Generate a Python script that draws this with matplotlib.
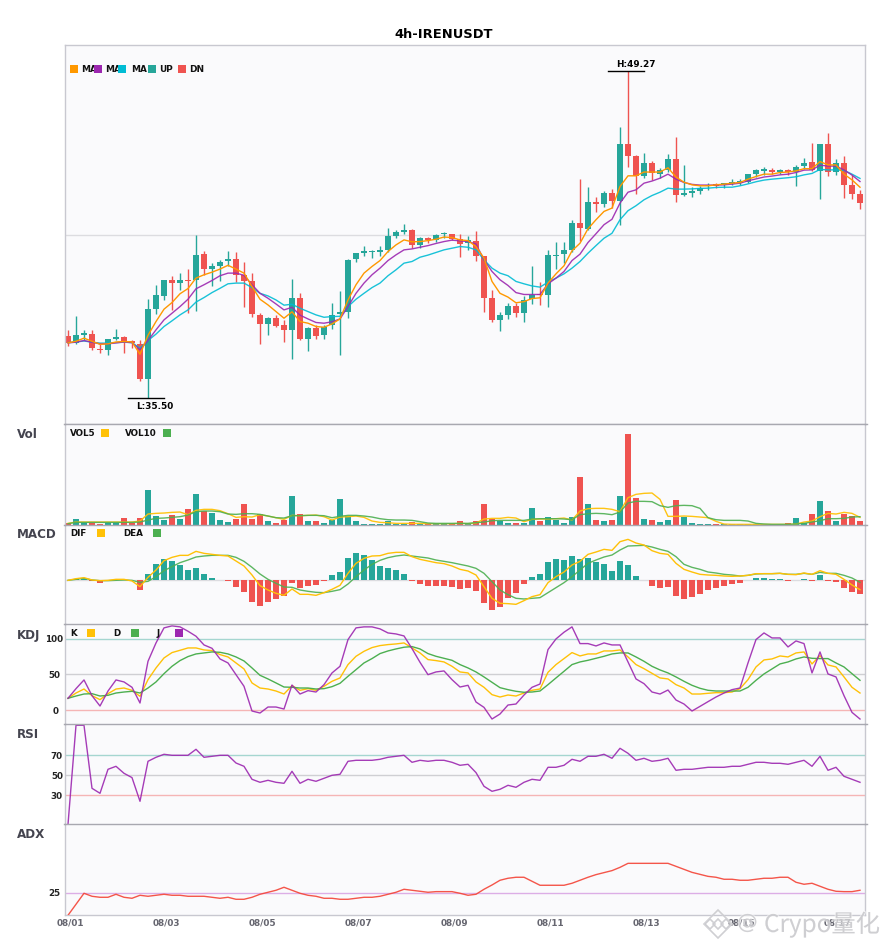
import matplotlib
matplotlib.use('Agg')
import numpy as np
import matplotlib.pyplot as plt
import matplotlib.patheffects as pe
from matplotlib.lines import Line2D
from matplotlib.patches import Rectangle, Polygon

# 4h candles, 100 bars
opens = [38.13,37.84,38.17,38.21,37.58,37.51,38.00,38.08,37.89,37.79,
         36.31,39.26,39.81,40.49,40.36,40.49,40.49,41.58,40.95,41.08,
         41.29,41.37,40.70,40.44,39.01,38.63,38.88,38.59,38.38,39.73,
         38.00,38.46,38.17,38.59,39.05,39.14,41.37,41.62,41.68,41.67,
         41.75,42.34,42.51,42.59,41.96,42.26,42.17,42.40,42.43,42.22,
         42.06,42.13,41.50,39.73,38.80,39.01,39.39,39.10,39.69,39.90,
         39.84,41.51,41.58,41.75,42.89,42.64,43.77,43.69,44.15,43.82,
         46.22,45.71,44.87,45.42,44.94,45.12,45.59,44.07,44.15,44.24,
         44.45,44.53,44.49,44.53,44.58,44.62,44.94,45.08,45.12,45.04,
         45.12,45.04,45.29,45.46,45.08,46.22,45.04,45.42,44.49,44.11]
highs = [38.38,38.97,38.38,38.38,37.79,38.00,38.42,38.13,37.96,37.96,
         39.69,40.28,40.49,40.66,40.78,40.95,42.38,41.71,41.20,41.33,
         41.71,41.67,41.25,40.78,39.10,38.93,39.01,38.80,40.53,39.94,
         38.50,38.59,38.59,39.52,40.02,41.37,41.62,41.92,41.75,41.92,
         42.68,42.59,42.85,42.64,42.30,42.30,42.43,42.51,42.43,42.43,
         42.34,42.55,41.50,40.07,39.14,39.52,39.52,39.81,41.08,40.40,
         41.75,42.09,42.09,43.02,44.74,44.41,43.99,44.24,44.32,46.94,
         49.27,45.76,45.84,45.50,45.21,45.80,46.52,45.32,44.41,44.45,
         44.58,44.58,44.58,44.74,44.74,44.94,45.17,45.25,45.21,45.17,
         45.17,45.33,45.63,46.26,46.22,46.68,45.59,45.71,44.91,44.28]
lows = [37.68,37.79,37.96,37.51,37.42,37.34,37.96,37.42,37.62,36.23,
        35.50,39.05,39.64,39.22,40.07,39.10,39.18,40.70,40.24,40.44,
        41.08,40.40,39.35,38.93,37.79,38.17,38.49,37.87,37.16,37.96,
        37.49,38.00,38.00,38.42,37.33,38.88,41.25,41.50,41.41,41.50,
        41.67,42.26,42.43,41.84,41.84,42.05,42.09,42.26,42.17,41.46,
        41.75,41.29,39.14,38.72,38.34,38.84,38.93,38.72,39.47,39.43,
        39.35,40.95,41.20,41.67,42.13,42.59,43.35,43.56,43.52,42.81,
        45.25,44.11,44.79,44.70,44.79,45.04,43.77,44.03,43.99,44.11,
        44.28,44.37,44.37,44.49,44.49,44.58,44.83,44.91,44.94,44.94,
        44.91,44.45,45.17,45.08,43.90,44.87,44.91,43.94,43.90,43.47]
closes = [37.84,38.17,38.23,37.62,37.51,38.00,38.08,37.89,37.84,36.31,
          39.26,39.84,40.49,40.36,40.49,40.44,41.54,40.95,41.08,41.25,
          41.37,40.70,40.44,39.05,38.63,38.88,38.55,38.38,39.73,38.00,
          38.46,38.13,38.50,39.01,39.14,41.33,41.62,41.71,41.72,41.75,
          42.34,42.51,42.59,41.96,42.26,42.17,42.38,42.45,42.22,42.00,
          42.17,41.50,39.73,38.80,39.01,39.39,39.10,39.64,39.84,39.84,
          41.54,41.54,41.75,42.89,42.68,43.77,43.69,44.15,43.82,46.22,
          45.71,44.87,45.42,45.00,45.12,45.59,44.07,44.15,44.24,44.37,
          44.49,44.46,44.58,44.62,44.66,44.94,45.12,45.14,45.04,45.12,
          45.04,45.25,45.42,45.12,46.22,45.04,45.42,44.49,44.11,43.73]

ma_fast = [37.83,37.90,38.03,37.90,37.77,37.79,37.87,37.89,37.87,37.35,
           38.15,38.73,39.25,39.53,39.90,40.12,40.56,40.70,40.81,40.94,
           41.10,40.94,40.77,40.21,39.67,39.43,39.15,38.87,39.14,38.73,
           38.66,38.52,38.49,38.63,38.84,39.64,40.28,40.77,41.05,41.30,
           41.68,41.96,42.17,42.09,42.10,42.14,42.20,42.29,42.27,42.17,
           42.14,41.89,41.40,40.42,39.92,39.76,39.52,39.57,39.70,39.73,
           40.35,40.74,41.08,41.71,42.03,42.64,43.02,43.37,43.51,44.42,
           44.87,44.87,45.03,45.03,45.03,45.21,44.82,44.60,44.49,44.45,
           44.45,44.49,44.52,44.56,44.59,44.73,44.84,44.94,44.94,45.01,
           45.03,45.08,45.17,45.17,45.47,45.33,45.33,44.94,44.70,44.39]
ma_mid = [37.83,37.86,37.93,37.86,37.79,37.79,37.83,37.87,37.84,37.54,
          37.93,38.38,38.80,39.08,39.36,39.67,40.11,40.28,40.46,40.66,
          40.77,40.77,40.68,40.28,39.92,39.71,39.47,39.22,39.33,39.00,
          38.84,38.69,38.66,38.72,38.84,39.36,39.92,40.35,40.70,40.98,
          41.30,41.54,41.75,41.79,41.86,41.93,42.02,42.10,42.16,42.13,
          42.10,42.00,41.33,40.84,40.49,40.25,39.95,39.87,39.87,39.87,
          40.32,40.56,40.84,41.30,41.57,42.06,42.43,42.81,43.04,43.72,
          44.18,44.28,44.56,44.65,44.77,44.94,44.73,44.59,44.51,44.48,
          44.48,44.48,44.49,44.52,44.56,44.66,44.74,44.82,44.86,44.91,
          44.94,45.01,45.11,45.12,45.32,45.28,45.28,45.12,44.90,44.63]
ma_slow = [37.84,37.87,37.91,37.86,37.82,37.82,37.84,37.86,37.84,37.61,
           37.93,38.20,38.52,38.76,39.01,39.22,39.55,39.74,39.95,40.13,
           40.32,40.35,40.35,40.16,39.92,39.81,39.64,39.42,39.46,39.29,
           39.15,39.01,38.91,38.94,38.95,39.36,39.67,39.92,40.16,40.35,
           40.66,40.91,41.19,41.26,41.44,41.53,41.64,41.75,41.82,41.89,
           41.86,41.75,41.33,40.98,40.77,40.66,40.42,40.32,40.23,40.18,
           40.39,40.56,40.74,40.98,41.26,41.61,41.93,42.24,42.45,43.02,
           43.40,43.61,43.86,44.04,44.18,44.35,44.31,44.31,44.32,44.34,
           44.35,44.38,44.39,44.39,44.45,44.53,44.62,44.69,44.73,44.76,
           44.79,44.83,44.91,44.97,45.14,45.12,45.12,45.10,44.94,44.76]

# volume, arbitrary units (no axis in the chart)
volume = [6,17,6,6,3,6,6,20,6,20,
          104,26,14,29,17,47,92,41,35,14,
          8,17,62,17,32,11,5,14,86,32,
          11,11,5,14,77,26,11,2,2,2,
          11,2,2,8,2,3,2,2,2,11,
          3,11,62,17,11,5,5,5,50,11,
          23,14,5,23,143,62,14,11,14,86,
          272,80,17,14,8,14,74,23,5,2,
          2,2,1,1,1,1,1,1,1,1,
          4,20,5,32,71,41,11,32,26,11]
vol5 = [4,8,8,8,8,8,8,8,8,11,
        32,34,35,37,38,30,43,46,46,42,
        33,22,24,23,30,26,21,16,28,27,
        28,29,24,14,23,24,26,22,11,7,
        6,4,4,4,4,3,3,3,3,4,
        3,5,17,19,19,22,20,9,16,17,
        17,18,20,14,41,48,49,49,46,39,
        81,91,94,95,76,25,25,26,25,23,
        21,10,2,1,1,1,1,1,1,1,
        1,2,8,11,24,34,32,37,34,22]
vol10 = [3,7,7,7,7,7,7,7,7,8,
         14,19,20,22,24,29,39,41,41,39,
         32,31,33,33,31,26,21,20,27,27,
         28,28,27,21,25,28,28,26,23,18,
         15,14,14,13,9,5,4,4,4,4,
         4,6,8,12,13,13,13,13,17,18,
         18,18,17,15,30,33,34,33,30,38,
         65,70,70,69,57,52,57,58,57,49,
         21,15,13,13,13,11,4,2,1,1,
         1,2,4,8,12,18,18,19,23,24]

# macd, arbitrary units
macd_hist = [0,3,4,-3,-8,-1,1,1,2,-29,
             19,49,64,58,46,31,37,19,7,1,
             -2,-20,-35,-65,-77,-65,-56,-46,-8,-23,
             -17,-14,-3,16,25,67,82,76,61,43,
             37,31,19,-2,-11,-17,-17,-17,-20,-26,
             -23,-32,-68,-89,-80,-53,-38,-11,10,19,
             55,64,61,73,64,67,55,49,28,58,
             46,13,0,-16,-23,-19,-47,-56,-50,-41,
             -29,-23,-16,-11,-8,0,7,7,4,4,
             -2,0,4,-2,16,-2,-5,-23,-35,-41]
dif = [0,5,8,1,-1,0,3,3,-2,-19,
       9,31,59,69,75,75,87,81,78,75,
       73,58,43,16,-16,-29,-39,-45,-26,-42,
       -42,-45,-37,-27,-15,21,51,66,73,74,
       81,84,84,71,63,58,53,50,43,33,
       28,16,-19,-54,-69,-70,-72,-61,-49,-43,
       -7,11,25,46,57,78,85,93,90,116,
       123,112,106,89,81,78,51,33,25,18,
       16,15,13,12,13,15,20,20,20,21,
       18,17,22,18,29,21,18,3,-14,-28]
dea = [0,3,6,1,-1,-1,0,1,0,-6,
       -3,11,29,41,53,61,70,73,75,75,
       75,69,57,39,19,3,-9,-20,-21,-29,
       -33,-36,-37,-33,-28,-11,11,31,48,60,
       68,73,76,73,70,67,61,57,53,48,
       43,36,21,-4,-29,-43,-54,-56,-54,-52,
       -37,-22,-7,11,31,51,61,70,76,91,
       103,104,105,100,93,87,71,48,39,33,
       25,22,18,16,13,15,19,20,20,21,
       18,18,21,18,24,21,21,15,7,-6]

kdj_k = [16.4,23.8,29.4,20.1,14.5,22.9,29.4,30.8,27.6,19.2,
         42.5,58.9,72.9,80.4,83.6,86.9,86.9,84.1,83.2,77.6,
         74.3,65.9,57.5,37.9,30.8,29.4,26.6,22.4,34.1,27.6,
         29.9,27.6,33.2,40.2,44.9,63.6,75.2,82.2,87.4,90.2,
         91.6,92.5,93.9,86.9,79.9,70.6,69.2,67.3,61.2,53.3,
         51.9,39.3,31.8,21.5,18.2,21.0,19.6,23.8,27.6,29.4,
         52.8,63.6,72.0,80.4,75.7,78.5,78.5,82.7,82.7,84.1,
         74.3,63.6,57.9,51.4,44.9,43.5,35.5,30.8,22.4,22.4,
         23.4,24.3,24.3,25.2,29.9,42.5,60.3,70.1,71.5,75.7,
         74.3,79.9,81.3,64.5,76.2,63.1,60.3,46.3,31.8,23.8]
kdj_d = [16.4,19.6,22.4,22.9,19.6,20.6,23.8,25.2,26.2,23.8,
         30.8,39.3,50.9,61.2,69.2,74.8,78.5,79.9,81.3,80.8,
         78.5,74.3,68.7,58.9,48.6,43.5,37.9,32.2,31.8,30.8,
         30.8,29.4,29.9,32.7,37.4,47.2,56.5,65.9,72.0,79.0,
         82.7,85.5,87.9,88.8,85.5,79.0,75.2,72.4,69.6,63.6,
         58.9,53.3,46.3,38.8,31.3,28.5,26.2,24.8,25.2,26.6,
         35.5,44.9,54.2,63.6,67.3,69.6,72.4,75.2,78.5,79.9,
         79.9,74.3,68.2,61.2,56.1,51.9,46.3,40.2,34.6,30.4,
         27.6,26.6,26.6,26.6,26.6,31.8,41.6,50.5,57.5,64.5,
         67.3,71.5,74.3,72.4,72.0,72.0,65.9,60.3,50.9,41.6]
kdj_j = [16.4,29.9,42.1,20.1,5.6,26.6,42.1,39.3,31.8,9.8,
         68.2,93.9,115.0,117.8,116.4,110.3,103.3,91.1,86.4,71.5,
         65.9,49.5,33.2,-1.4,-4.2,4.2,4.2,1.4,35.0,22.4,
         27.1,25.2,35.5,51.9,61.2,98.6,115.0,116.4,116.4,113.6,
         107.9,106.5,103.7,86.0,66.8,49.5,53.3,54.7,42.5,32.2,
         34.6,11.2,3.7,-12.6,-5.6,7.0,8.4,21.0,31.8,36.4,
         84.6,99.5,108.9,116.4,93.0,93.0,89.7,93.9,91.1,91.1,
         67.3,43.5,36.9,25.2,22.4,28.0,14.0,8.4,-1.4,5.1,
         11.7,18.2,23.8,28.5,30.8,65.9,98.6,107.9,100.9,100.9,
         88.3,96.7,93.0,51.9,81.3,50.5,46.3,20.1,-3.3,-12.6]

rsi = [1,100,100,37,32,56,59,52,47.7,24,
       64,68,71,70,70,70,76,68,69,70,
       70,62.3,59,46,43,45,43,42,54,42,
       46,44,47,50,51,64,65,65,65,66,
       68,69,70,63,65,64,65,65,63,60,
       61,52.7,39,34,36,40,38,43,46,45,
       58,58,60,66,64,69,69,71,67,77,
       72,65,67,64,65,67,55,56,56,57,
       58,58,58,59,59,61,63,63,62,62,
       61,63,65,59,69,55,58,49,46,43]
adx = [0,12.1,24.2,20.9,19.8,19.8,23.1,19.8,18.7,22.0,
       20.9,22.0,23.1,22.0,22.0,20.9,20.9,20.9,19.8,18.7,
       19.8,17.6,17.6,19.8,23.1,25.3,27.5,30.8,27.5,24.2,
       22.0,20.9,18.7,18.7,17.6,17.6,18.7,19.8,19.8,20.9,
       23.1,25.3,28.6,27.5,26.4,25.3,26.0,26.0,26.0,24.2,
       22.0,23.1,28.6,33.3,38.5,40.7,41.8,41.8,37.4,33.0,
       33.0,33.0,33.0,35.2,38.5,41.8,44.7,46.9,49.1,52.7,
       57.1,57.1,57.1,57.1,57.1,57.1,53.8,50.5,47.2,45.0,
       42.8,41.8,39.6,39.6,38.5,38.5,39.6,40.7,40.7,41.8,
       41.8,36.3,34.1,35.2,31.9,28.6,26.4,26.0,26.0,27.5]

date_labels = ['08/01','08/03','08/05','08/07','08/09','08/11','08/13','08/15','08/17']

W, H = 885, 950
UP = '#26a69a'
DN = '#ef5350'
BG = '#fafafc'
EDGE = '#c8c8d0'
TOP_EDGE = '#a8a8b0'
YELLOW = '#ffc107'
GREEN = '#4caf50'
PURPLE = '#9c27b0'

plt.rcParams['font.family'] = ['DejaVu Sans']

fig = plt.figure(figsize=(W / 100, H / 100), dpi=100)


def px_axes(top, bottom):
    return fig.add_axes([65 / W, 1 - bottom / H, 800 / W, (bottom - top) / H])


def fig_xy(x, y):
    return x / W, 1 - y / H


def fig_text(x, y, s, **kw):
    kw.setdefault('va', 'center')
    kw.setdefault('fontweight', 'bold')
    kw.setdefault('zorder', 4)
    fig.text(*fig_xy(x, y), s, **kw)


def fig_square(x, y, color):
    fig.add_artist(Rectangle(fig_xy(x, y + 8), 8 / W, 8 / H, color=color, lw=0,
                             transform=fig.transFigure, zorder=5))


x = np.arange(100)
o = np.array(opens)
c = np.array(closes)
bar_colors = [UP if c[i] >= o[i] else DN for i in x]
xlim = (-0.375, 99.625)

ax_price = px_axes(45.3, 424.3)
ax_vol = px_axes(424.3, 524.7)
ax_macd = px_axes(524.7, 624.3)
ax_kdj = px_axes(624.3, 724.3)
ax_rsi = px_axes(724.3, 824.3)
ax_adx = px_axes(824.3, 915.3)
panels = [ax_price, ax_vol, ax_macd, ax_kdj, ax_rsi, ax_adx]

for i, ax in enumerate(panels):
    ax.set_facecolor(BG)
    ax.set_xlim(xlim)
    ax.set_xticks([])
    ax.set_yticks([])
    for side in ax.spines:
        ax.spines[side].set_color(EDGE)
        ax.spines[side].set_linewidth(1)
    if i > 0:
        ax.spines['top'].set_color(TOP_EDGE)
        ax.spines['top'].set_zorder(6)
        ax.spines['bottom'].set_visible(i == 5)

# candles
ax_price.set_ylim(34.40, 50.37)
ax_price.axhline(42.39, color='#dcdce0', lw=1, zorder=1)
ax_price.vlines(x, lows, highs, colors=bar_colors, lw=1, zorder=2)
ax_price.bar(x, c - o, bottom=o, width=0.75, color=bar_colors, lw=0, zorder=2)
ax_price.plot(x, ma_slow, color='#00bcd4', lw=1.0, alpha=0.9, zorder=3)
ax_price.plot(x, ma_mid, color=PURPLE, lw=1.0, alpha=0.9, zorder=3)
ax_price.plot(x, ma_fast, color='#ff9800', lw=1.0, zorder=3)

# high / low marks
hi = int(np.argmax(highs))
lo = int(np.argmin(lows))
ax_price.plot([hi - 2.5, hi + 2], [highs[hi]] * 2, color='black', lw=1, zorder=4)
ax_price.plot([lo - 2.5, lo + 2], [lows[lo]] * 2, color='black', lw=1, zorder=4)
ax_price.annotate('H:%.2f' % highs[hi], (hi, highs[hi]), xytext=(-8.6, 1.6), textcoords='offset points',
                  fontsize=6.4, fontweight='bold', ha='left', va='bottom', annotation_clip=False)
ax_price.annotate('L:%.2f' % lows[lo], (lo, lows[lo]), xytext=(-8.6, -2.4), textcoords='offset points',
                  fontsize=6.4, fontweight='bold', ha='left', va='top', annotation_clip=False)

# volume
ax_vol.set_ylim(0, 301)
ax_vol.bar(x, volume, width=0.75, color=bar_colors, lw=0, zorder=2)
ax_vol.plot(x, vol5, color=YELLOW, lw=1.0, alpha=0.95, zorder=3)
ax_vol.plot(x, vol10, color=GREEN, lw=1.0, alpha=0.9, zorder=3)

# macd
ax_macd.set_ylim(-132, 167)
ax_macd.axhline(0, color='#dcdce0', lw=1, zorder=1)
hist_colors = [UP if v >= 0 else DN for v in macd_hist]
ax_macd.bar(x, macd_hist, width=0.75, color=hist_colors, lw=0, zorder=2)
ax_macd.plot(x, dea, color=GREEN, lw=1.0, alpha=0.9, zorder=3)
ax_macd.plot(x, dif, color=YELLOW, lw=1.0, zorder=3)

# kdj
ax_kdj.set_ylim(-20, 120)
ax_kdj.axhline(100, color='#a5d6d0', lw=1, zorder=1)
ax_kdj.axhline(50, color='#cfcfd3', lw=1, zorder=1)
ax_kdj.axhline(0, color='#f5b5b5', lw=1, zorder=1)
ax_kdj.plot(x, kdj_k, color=YELLOW, lw=1.0, zorder=3)
ax_kdj.plot(x, kdj_d, color=GREEN, lw=1.0, zorder=3)
ax_kdj.plot(x, kdj_j, color=PURPLE, lw=1.0, alpha=0.9, zorder=4)

# rsi
ax_rsi.set_ylim(1, 101)
ax_rsi.axhline(70, color='#a5d6d0', lw=1, zorder=1)
ax_rsi.axhline(50, color='#cfcfd3', lw=1, zorder=1)
ax_rsi.axhline(30, color='#f5b5b5', lw=1, zorder=1)
ax_rsi.plot(x, rsi, color=PURPLE, lw=1.0, alpha=0.9, zorder=3)

# adx
ax_adx.set_ylim(0, 100)
ax_adx.axhline(25, color='#dcaee6', lw=1, zorder=1)
ax_adx.plot(x, adx, color='#f44336', lw=1.0, alpha=0.9, zorder=3)

# labels in the reference are not quite right aligned, so each gets its own pad
for ax, ticks, pads in [(ax_kdj, [0, 50, 100], [4.5, 3, 1.5]), (ax_rsi, [30, 50, 70], [1.5, 1.5, 1.5]),
                        (ax_adx, [25], [3])]:
    ax.set_yticks(ticks)
    ax.set_yticklabels([str(t) for t in ticks], fontsize=6.3, fontweight='bold', color='#222222')
    ax.tick_params(axis='y', length=0)
    for tick, pad in zip(ax.yaxis.get_major_ticks(), pads):
        tick.set_pad(pad)

ax_adx.set_xticks(x[::12] + 0.25)
ax_adx.set_xticklabels(date_labels, fontsize=6.4, fontweight='bold', color='#666670')
ax_adx.tick_params(axis='x', length=0, pad=2.2)

# small nubs where panels join
for y in [424.3, 524.7, 624.3, 724.3, 824.3]:
    for x0 in [63.5, 865]:
        fig.add_artist(Line2D([x0 / W, (x0 + 1.5) / W], [1 - y / H] * 2, color=TOP_EDGE, lw=1))

fig_text(444, 34.5, '4h-IRENUSDT', fontsize=9.4, ha='center', color='black')

for label, y in [('Vol', 434.7), ('MACD', 535), ('KDJ', 635), ('RSI', 735), ('ADX', 835)]:
    fig_text(17, y, label, fontsize=8.6, color='#44444f')

# legends
for text_x, label, sq_x, color in [(81, 'MA', 70, '#ff9800'), (105, 'MA', 94, PURPLE),
                                   (131, 'MA', 118, '#00bcd4'), (159, 'UP', 148, UP), (189, 'DN', 178, DN)]:
    fig_text(text_x, 69, label, fontsize=6.4, color='#111111')
    fig_square(sq_x, 65, color)

for text_x, label, sq_x, color in [(70, 'VOL5', 101, YELLOW), (125, 'VOL10', 163, GREEN)]:
    fig_text(text_x, 433.5, label, fontsize=6.3, color='#111111')
    fig_square(sq_x, 429, color)

for text_x, label, sq_x, color in [(70, 'DIF', 97, YELLOW), (123, 'DEA', 153, GREEN)]:
    fig_text(text_x, 533.5, label, fontsize=6.3, color='#111111')
    fig_square(sq_x, 529, color)

for text_x, label, sq_x, color in [(70, 'K', 87, YELLOW), (113, 'D', 131, GREEN), (157, 'J', 175, PURPLE)]:
    fig_text(text_x, 633.5, label, fontsize=6.3, color='#111111')
    fig_square(sq_x, 629, color)

# watermark, soft grey with a thin white halo, date labels still show through
wm = '#c4c4c8'
halo = [pe.withStroke(linewidth=1.5, foreground='white', alpha=0.5)]
for cx, cy, size in [(718, 924, 14), (710, 924, 5), (718, 924, 5), (726, 924, 5)]:
    pts = [(cx, cy - size), (cx + size, cy), (cx, cy + size), (cx - size, cy)]
    pts = [fig_xy(*p) for p in pts]
    fig.add_artist(Polygon(pts, closed=True, fill=False, ec=wm, lw=1.2, alpha=0.8,
                           transform=fig.transFigure, zorder=6, path_effects=halo))
fig.text(*fig_xy(737, 922.5), '@', fontsize=15, color=wm, alpha=0.7, va='center', zorder=6, path_effects=halo,
         family=['DejaVu Sans'])
fig.text(*fig_xy(764, 925), 'Crypo量化', fontsize=17.5, color=wm, alpha=0.75, va='center', zorder=6, path_effects=halo,
         family=['Noto Sans CJK SC', 'DejaVu Sans'])

fig.savefig('out.png', dpi=100, facecolor='white')
